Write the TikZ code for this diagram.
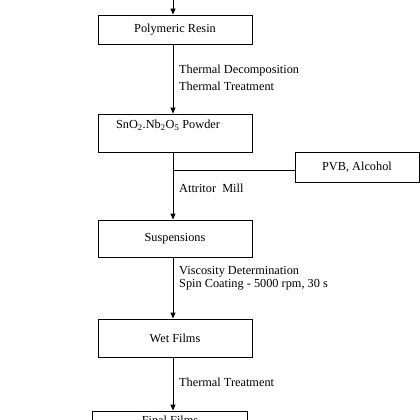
\documentclass[tikz,border=0pt]{standalone}
\usepackage{fontspec}
\setmainfont{Liberation Serif}
\usetikzlibrary{arrows.meta}
\begin{document}
\begin{tikzpicture}[x=1pt,y=-1pt,
  box/.style={draw,line width=0.9pt,minimum width=154pt,inner sep=0pt,font=\fontsize{12.3}{14}\selectfont},
  lbl/.style={anchor=west,inner sep=0pt,font=\fontsize{12.3}{14}\selectfont},
  flow/.style={line width=0.9pt,-{Triangle[length=6pt,width=5pt]}}]
\useasboundingbox (0,0) rectangle (420,420);
\clip (0,0) rectangle (420,420);
\coordinate (start) at (173,-2);
\node[box,minimum height=29pt] (resin) at (175,29.5) {Polymeric Resin};
\node[box,minimum height=38pt] (powder) at (175,133) {};
\node[inner sep=0pt,font=\fontsize{12.3}{14}\selectfont] (powdertxt) at (168,125) {SnO\textsubscript{2}.Nb\textsubscript{2}O\textsubscript{5} Powder};
\node[box,minimum width=124pt,minimum height=30pt] (pvb) at (357,167) {PVB, Alcohol};
\node[box,minimum height=37pt] (susp) at (175,238.5) {Suspensions};
\node[box,minimum height=38pt] (wet) at (175,338) {Wet Films};
\node[box,minimum width=155pt,minimum height=30pt] (final) at (169.5,426) {};
\node[inner sep=0pt,font=\fontsize{12.3}{14}\selectfont] (finaltxt) at (170,420) {Final Films};
\coordinate (join) at (173,170);
\draw[flow] (start) -- (173,0 |- resin.north);
\draw[flow] (173,0 |- resin.south) -- (173,0 |- powder.north);
\draw[flow] (173,0 |- powder.south) -- (173,0 |- susp.north);
\draw[line width=0.9pt] (join) -- (pvb.west |- join);
\draw[flow] (173,0 |- susp.south) -- (173,0 |- wet.north);
\draw[flow] (173,0 |- wet.south) -- (173,0 |- final.north);
\node[lbl] (l1) at (179,71) {Thermal Decomposition};
\node[lbl] (l2) at (179,86) {Thermal Treatment};
\node[lbl] (l3) at (179,188) {Attritor\ \ Mill};
\node[lbl] (l4) at (179,272) {Viscosity Determination};
\node[lbl] (l5) at (179,285) {Spin Coating - 5000 rpm, 30 s};
\node[lbl] (l6) at (179,382) {Thermal Treatment};
\end{tikzpicture}
\end{document}
